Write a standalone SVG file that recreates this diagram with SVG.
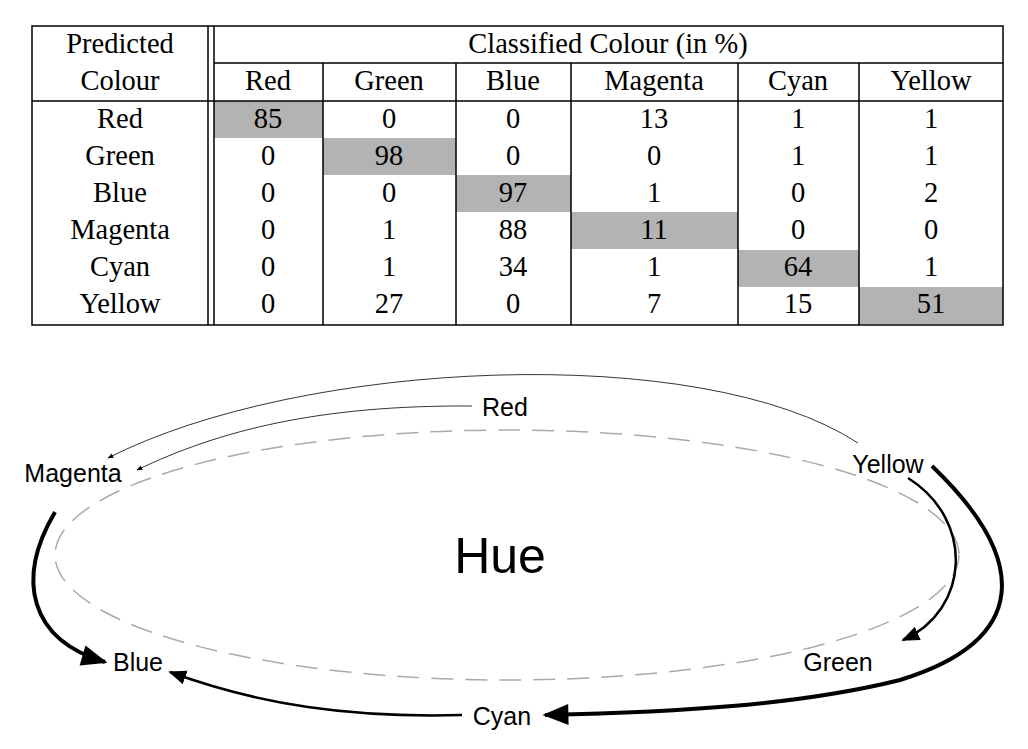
<svg xmlns="http://www.w3.org/2000/svg" width="1028" height="749" viewBox="0 0 1028 749">
<style>
.t{font-family:"Liberation Serif",serif;font-size:28.5px;text-anchor:middle;fill:#000}
.s{font-family:"Liberation Sans",sans-serif;font-size:25px;text-anchor:middle;fill:#000}
.ln{stroke:#000;stroke-width:1.5;fill:none}
.sh{fill:#b3b3b3}
.c{fill:none;stroke:#000}
</style>
<defs>
<marker id="a" viewBox="0 0 10 10" refX="9" refY="5" markerWidth="6" markerHeight="6" markerUnits="userSpaceOnUse" orient="auto"><path d="M0,1 L10,5 L0,9 z"/></marker>
<marker id="b" viewBox="0 0 10 10" refX="9" refY="5" markerWidth="18" markerHeight="18" markerUnits="userSpaceOnUse" orient="auto"><path d="M0,1 L10,5 L0,9 z"/></marker>
<marker id="c" viewBox="0 0 10 10" refX="9" refY="5" markerWidth="28" markerHeight="26" markerUnits="userSpaceOnUse" orient="auto"><path d="M0,1 L10,5 L0,9 z"/></marker>
</defs>
<g id="table">
<rect class="sh" x="214" y="101" width="109" height="37"/>
<rect class="sh" x="323" y="138" width="133" height="37"/>
<rect class="sh" x="456" y="175" width="115" height="37"/>
<rect class="sh" x="571" y="212" width="167" height="37"/>
<rect class="sh" x="738" y="250" width="121" height="37"/>
<rect class="sh" x="859" y="287" width="144" height="37"/>
<rect class="ln" x="32" y="26" width="971" height="299"/>
<path class="ln" d="M208,26V325M214,26V325M214,63H1003M32,101H1003M323,63V325M456,63V325M571,63V325M738,63V325M859,63V325"/>
<text class="t" x="120" y="53">Predicted</text>
<text class="t" x="120" y="90">Colour</text>
<text class="t" x="608" y="53">Classified Colour (in %)</text>
<g id="hdr">
<text class="t" x="268" y="90">Red</text><text class="t" x="389" y="90">Green</text><text class="t" x="513" y="90">Blue</text><text class="t" x="654" y="90">Magenta</text><text class="t" x="798" y="90">Cyan</text><text class="t" x="931" y="90">Yellow</text>
</g>
<g id="rows">
<text class="t" x="120" y="128">Red</text><text class="t" x="268" y="128">85</text><text class="t" x="389" y="128">0</text><text class="t" x="513" y="128">0</text><text class="t" x="654" y="128">13</text><text class="t" x="798" y="128">1</text><text class="t" x="931" y="128">1</text>
<text class="t" x="120" y="165">Green</text><text class="t" x="268" y="165">0</text><text class="t" x="389" y="165">98</text><text class="t" x="513" y="165">0</text><text class="t" x="654" y="165">0</text><text class="t" x="798" y="165">1</text><text class="t" x="931" y="165">1</text>
<text class="t" x="120" y="202">Blue</text><text class="t" x="268" y="202">0</text><text class="t" x="389" y="202">0</text><text class="t" x="513" y="202">97</text><text class="t" x="654" y="202">1</text><text class="t" x="798" y="202">0</text><text class="t" x="931" y="202">2</text>
<text class="t" x="120" y="239">Magenta</text><text class="t" x="268" y="239">0</text><text class="t" x="389" y="239">1</text><text class="t" x="513" y="239">88</text><text class="t" x="654" y="239">11</text><text class="t" x="798" y="239">0</text><text class="t" x="931" y="239">0</text>
<text class="t" x="120" y="276">Cyan</text><text class="t" x="268" y="276">0</text><text class="t" x="389" y="276">1</text><text class="t" x="513" y="276">34</text><text class="t" x="654" y="276">1</text><text class="t" x="798" y="276">64</text><text class="t" x="931" y="276">1</text>
<text class="t" x="120" y="313">Yellow</text><text class="t" x="268" y="313">0</text><text class="t" x="389" y="313">27</text><text class="t" x="513" y="313">0</text><text class="t" x="654" y="313">7</text><text class="t" x="798" y="313">15</text><text class="t" x="931" y="313">51</text>
</g>
</g>
<g id="hue"><ellipse cx="507" cy="555" rx="452" ry="125" fill="none" stroke="#aaa" stroke-width="1.5" stroke-dasharray="22,12"/>
<text x="500" y="573" font-family="Liberation Sans,sans-serif" font-size="50" text-anchor="middle">Hue</text></g>
<g id="connectors">
<path class="c" stroke-width="0.8" marker-end="url(#a)" d="M858,443 C700,340 300,360 108,458"/>
<path class="c" stroke-width="0.8" marker-end="url(#a)" d="M472,406 C320,405 220,430 137,470"/>
<path class="c" stroke-width="4" marker-end="url(#c)" d="M55,512 C15,580 30,640 105,662"/>
<path class="c" stroke-width="2.5" marker-end="url(#b)" d="M908,478 C975,520 970,610 903,640"/>
<path class="c" stroke-width="4" marker-end="url(#c)" d="M932,466 C1030,560 1030,640 900,680 C800,705 680,712 545,715"/>
<path class="c" stroke-width="2.5" marker-end="url(#b)" d="M462,715 C350,718 260,705 170,672"/>
</g>
<g id="labels">
<text class="s" x="505" y="416">Red</text>
<text class="s" x="73" y="482">Magenta</text>
<text class="s" x="888" y="473">Yellow</text>
<text class="s" x="138" y="671">Blue</text>
<text class="s" x="838" y="671">Green</text>
<text class="s" x="502" y="725">Cyan</text>
</g>
</svg>
